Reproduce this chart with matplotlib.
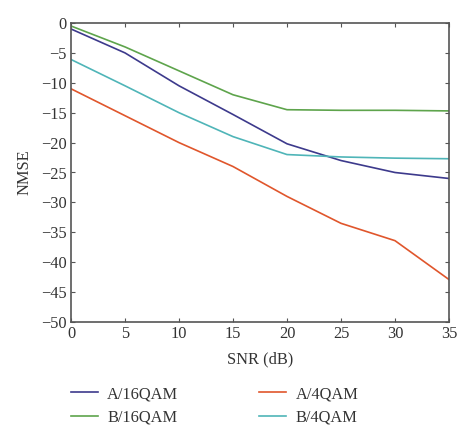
import matplotlib
matplotlib.use("Agg")
import matplotlib.pyplot as plt
from matplotlib.lines import Line2D

plt.rcParams['font.family'] = ['Liberation Serif', 'DejaVu Serif']

snr = [0, 5, 10, 15, 20, 25, 30, 35]
a16 = [-1.0, -5.0, -10.5, -15.3, -20.2, -23.0, -25.0, -26.0]
a4 = [-11.0, -15.5, -20.0, -24.0, -29.0, -33.5, -36.4, -42.9]
b16 = [-0.5, -4.0, -8.0, -12.0, -14.5, -14.6, -14.6, -14.7]
b4 = [-6.1, -10.5, -15.0, -19.0, -22.0, -22.4, -22.6, -22.7]
labels = ['A/16QAM', 'A/4QAM', 'B/16QAM', 'B/4QAM']

c_a16 = '#3d3a8c'
c_a4 = '#e0562c'
c_b16 = '#5ea44c'
c_b4 = '#4fb5b8'

fs = 11.8
fig = plt.figure(figsize=(4.74, 4.4), dpi=100)
ax = fig.add_axes([71/474, 1-322/440, (449-71)/474, (322-23)/440])

ax.plot(snr, a16, color=c_a16, lw=1.2)
ax.plot(snr, a4, color=c_a4, lw=1.2)
ax.plot(snr, b16, color=c_b16, lw=1.2)
ax.plot(snr, b4, color=c_b4, lw=1.2)

ax.set_xlim(0, 35)
ax.set_ylim(-50, 0)
ax.set_xticks(range(0, 36, 5))
ax.set_yticks(range(-50, 1, 5))
ax.set_yticklabels([f'\u2212{abs(v)}' if v < 0 else str(v) for v in range(-50, 1, 5)])
ax.tick_params(direction='in', top=True, right=True, labelsize=fs, length=3, color='#555555', width=0.8, pad=3)
for s in ax.spines.values():
    s.set_color('#555555')
    s.set_linewidth(1.2)
ax.set_xlabel('SNR (dB)', fontsize=fs, color='#333333', labelpad=6.5)
ax.set_ylabel('NMSE', fontsize=fs, color='#333333', labelpad=6)
for t in ax.get_xticklabels() + ax.get_yticklabels():
    t.set_color('#333333')

handles = [Line2D([], [], color=c, lw=1.2) for c in [c_a16, c_a4, c_b16, c_b4]]
order = [0, 2, 1, 3]
fig.legend([handles[i] for i in order], [labels[i] for i in order], ncol=2,
           frameon=False, loc='upper left', bbox_to_anchor=(71/474, 1-386/440),
           borderpad=0, borderaxespad=0,
           fontsize=fs, handlelength=1.65, columnspacing=4.95, labelspacing=0.45,
           handletextpad=0.55, labelcolor='#333333')

fig.savefig('out.png', dpi=100)
